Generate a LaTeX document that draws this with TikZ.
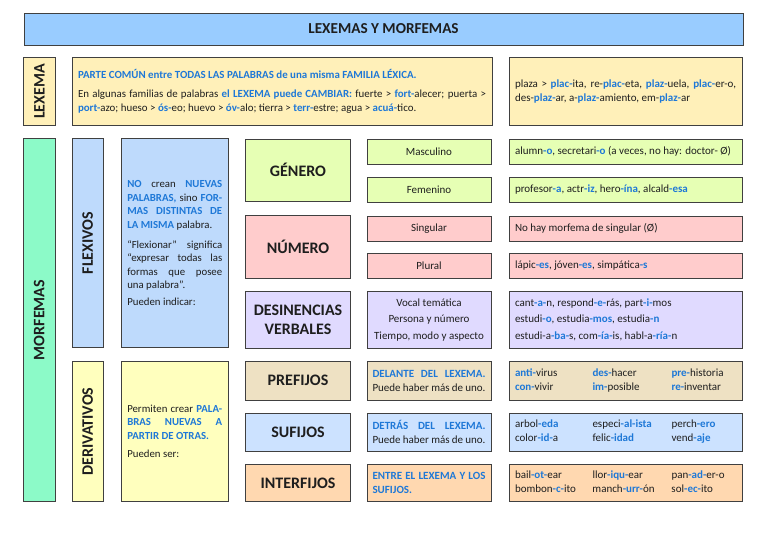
\documentclass[tikz,border=0pt]{standalone}
\usepackage{fontspec}
\setmainfont{Carlito}
\usetikzlibrary{shadows}
\definecolor{tblue}{RGB}{30,120,215}
\definecolor{ink}{RGB}{30,30,30}
\definecolor{cTitle}{RGB}{153,204,255}
\definecolor{cLex}{RGB}{255,240,185}
\definecolor{cMorf}{RGB}{140,250,200}
\definecolor{cFlex}{RGB}{190,218,252}
\definecolor{cGen}{RGB}{230,255,180}
\definecolor{cNum}{RGB}{255,204,204}
\definecolor{cDes}{RGB}{224,218,255}
\definecolor{cDer}{RGB}{255,255,190}
\definecolor{cPre}{RGB}{238,225,195}
\definecolor{cSuf}{RGB}{204,226,255}
\definecolor{cInt}{RGB}{255,216,176}
\newcommand\B[1]{\textcolor{tblue}{\bfseries #1}}
\newcommand\jl[2]{\leavevmode\hbox to #1{#2}}
\newcommand\bx[7]{%
  \pgfmathsetmacro\bxw{#4-#2}\pgfmathsetmacro\bxh{#5-#3}%
  \node[boxst,#6,minimum width=\bxw pt,minimum height=\bxh pt,anchor=north west] (#1) at (#2,#3) {#7};}
\tikzset{
  boxst/.style={draw=ink!85, line width=0.9pt, inner sep=0pt, outer sep=0pt,
    align=center, text=ink,
    execute at begin node={\spaceskip=0pt\xspaceskip=0pt},
    drop shadow={opacity=0.25, shadow xshift=0.8pt, shadow yshift=-0.8pt}},
  hd/.style={font=\fontsize{16}{19}\selectfont\bfseries},
  rot/.style={rotate=90, text=ink, font=\fontsize{16}{19}\selectfont\bfseries},
  body/.style={font=\fontsize{10.9}{14}\selectfont},
  bodyb/.style={font=\fontsize{10.8}{13.5}\selectfont},
  sm/.style={font=\fontsize{11}{14}\selectfont},
}
\begin{document}
\begin{tikzpicture}[x=1pt,y=-1pt]
\fill[white] (0,0) rectangle (768,543);
\useasboundingbox (0,0) rectangle (768,543);

% title
\bx{title}{24}{13}{743}{45}{fill=cTitle,font=\fontsize{15.2}{19}\selectfont\bfseries}{LEXEMAS Y MORFEMAS}

% LEXEMA row
\bx{lexema}{23.5}{57.5}{55.5}{125.5}{fill=cLex}{}
\node[rot] (lexemaT) at (lexema.center) {LEXEMA};
\bx{lexdesc}{72}{57.5}{492}{125.5}{fill=cLex,text width=408pt,align=left,body}{%
\B{PARTE COMÚN entre TODAS LAS PALABRAS de una misma FAMILIA LÉXICA.}\\[5pt]
\jl{408pt}{En algunas familias de palabras \B{el LEXEMA puede CAMBIAR:} fuerte > \B{fort-}alecer; puerta >}\\
\B{port-}azo; hueso > \B{ós-}eo; huevo > \B{óv-}alo; tierra > \B{terr-}estre; agua > \B{acuá-}tico.}
\bx{lexex}{509}{57.5}{742}{125.5}{fill=cLex,text width=221pt,align=left,sm}{%
\jl{221pt}{plaza > \B{plac-}ita, re-\B{plac-}eta, \B{plaz-}uela, \B{plac-}er-o,}\\
des-\B{plaz-}ar, a-\B{plaz-}amiento, em-\B{plaz-}ar}

% MORFEMAS
\bx{morf}{23.5}{138.5}{55}{501.5}{fill=cMorf}{}
\node[rot] (morfT) at (morf.center) {MORFEMAS};

% FLEXIVOS
\bx{flex}{72}{138.5}{103.5}{347.5}{fill=cFlex}{}
\node[rot] (flexT) at (flex.center) {FLEXIVOS};
\bx{flexd}{121.5}{138.5}{228}{347.5}{fill=cFlex,text width=95pt,align=left,bodyb}{%
\jl{95pt}{\B{NO} crean \B{NUEVAS}}\\
\jl{95pt}{\B{PALABRAS,} sino \B{FOR-}}\\
\jl{95pt}{\B{MAS DISTINTAS DE}}\\
\B{LA MISMA} palabra.\\[6.5pt]
\jl{95pt}{“Flexionar” significa}\\
\jl{95pt}{“expresar todas las}\\
\jl{95pt}{formas que posee}\\
una palabra”.\\[3.5pt]
Pueden indicar:}

\bx{gen}{245.5}{139}{350.5}{201.5}{fill=cGen,hd}{GÉNERO}
\bx{num}{245.5}{215.5}{350.5}{278.5}{fill=cNum,hd}{NÚMERO}
\bx{des}{245.5}{291}{350.5}{348}{fill=cDes,hd}{DESINENCIAS\\VERBALES}

\bx{masc}{367}{139}{491}{164}{fill=cGen,sm}{Masculino}
\bx{fem}{367}{177}{491}{202}{fill=cGen,sm}{Femenino}
\bx{sing}{367}{216}{491}{241}{fill=cNum,sm}{Singular}
\bx{plur}{367}{253.5}{491}{278.5}{fill=cNum,sm}{Plural}
\bx{voc}{367}{291.5}{491}{348}{fill=cDes,font=\fontsize{11}{16.5}\selectfont}{Vocal temática\\Persona y número\\Tiempo, modo y aspecto}

\bx{mascE}{509}{139}{742}{164}{fill=cGen,text width=221pt,align=left,sm}{alumn\B{-o}, secretari\B{-o} (a veces, no hay: doctor- Ø)}
\bx{femE}{509}{177}{742}{202}{fill=cGen,text width=221pt,align=left,sm}{profesor\B{-a}, actr\B{-iz}, hero\B{-ína}, alcald\B{-esa}}
\bx{singE}{509}{216}{742}{241}{fill=cNum,text width=221pt,align=left,sm}{No hay morfema de singular (Ø)}
\bx{plurE}{509}{253.5}{742}{278.5}{fill=cNum,text width=221pt,align=left,sm}{lápic\B{-es}, jóven\B{-es}, simpática\B{-s}}
\bx{vocE}{509}{291.5}{742}{348}{fill=cDes,text width=221pt,align=left,font=\fontsize{11}{16.5}\selectfont}{%
cant\B{-a-}n, respond\B{-e-}rás, part\B{-i-}mos\\
estudi\B{-o}, estudia\B{-mos}, estudia\B{-n}\\
estudi-a\B{-ba-}s, com\B{-ía-}is, habl-a\B{-ría-}n}

% DERIVATIVOS
\bx{der}{72}{361.5}{103.5}{501.5}{fill=cDer}{}
\node[rot] (derT) at (der.center) {DERIVATIVOS};
\bx{derd}{121.5}{361.5}{228}{501.5}{fill=cDer,text width=95pt,align=left,bodyb}{%
\jl{95pt}{Permiten crear \B{PALA-}}\\
\jl{95pt}{\B{BRAS NUEVAS A}}\\
\B{PARTIR DE OTRAS.}\\[5pt]
Pueden ser:}

\bx{pre}{245.5}{361.5}{350.5}{400}{fill=cPre,hd}{PREFIJOS}
\bx{suf}{245.5}{413}{350.5}{451}{fill=cSuf,hd}{SUFIJOS}
\bx{int}{245.5}{464.5}{350.5}{501.5}{fill=cInt,hd}{INTERFIJOS}

\bx{preD}{367}{361.5}{491}{400}{fill=cPre,text width=113pt,align=left,sm}{%
\jl{113pt}{\B{DELANTE DEL LEXEMA.}}\\Puede haber más de uno.}
\bx{sufD}{367}{413}{491}{451}{fill=cSuf,text width=113pt,align=left,sm}{%
\jl{113pt}{\B{DETRÁS DEL LEXEMA.}}\\Puede haber más de uno.}
\bx{intD}{367}{464.5}{491}{501.5}{fill=cInt,text width=113pt,align=left,sm}{%
\jl{113pt}{\B{ENTRE EL LEXEMA Y LOS}}\\\B{SUFIJOS.}}

\bx{preE}{509}{361.5}{742}{400}{fill=cPre,text width=221pt,align=left,sm}{%
\begin{tabular}{@{}p{77.5pt}@{}p{79pt}@{}l@{}}
\B{anti-}virus & \B{des-}hacer & \B{pre-}historia\\
\B{con-}vivir & \B{im-}posible & \B{re-}inventar
\end{tabular}}
\bx{sufE}{509}{413}{742}{451}{fill=cSuf,text width=221pt,align=left,sm}{%
\begin{tabular}{@{}p{77.5pt}@{}p{79pt}@{}l@{}}
arbol\B{-eda} & especi\B{-al-ista} & perch\B{-ero}\\
color\B{-id-}a & felic\B{-idad} & vend\B{-aje}
\end{tabular}}
\bx{intE}{509}{464.5}{742}{501.5}{fill=cInt,text width=221pt,align=left,sm}{%
\begin{tabular}{@{}p{77.5pt}@{}p{79pt}@{}l@{}}
bail\B{-ot-}ear & llor\B{-iqu-}ear & pan\B{-ad-}er-o\\
bombon\B{-c-}ito & manch\B{-urr-}ón & sol\B{-ec-}ito
\end{tabular}}
\end{tikzpicture}
\end{document}
